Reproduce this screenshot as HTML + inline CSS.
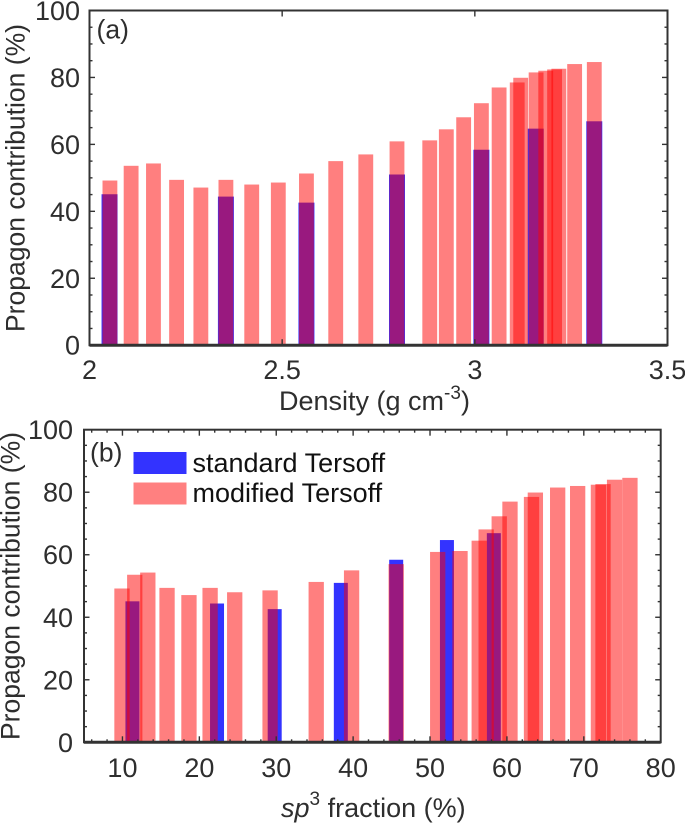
<!DOCTYPE html>
<html>
<head>
<meta charset="utf-8">
<style>
html,body{margin:0;padding:0;background:#fff;}
svg{display:block;font-family:"Liberation Sans",sans-serif;}
text{fill:#2e2e2e;}
</style>
</head>
<body>
<svg id="chart" xmlns="http://www.w3.org/2000/svg" width="685" height="823" viewBox="0 0 685 823">
  <g id="layer"></g>
  <text x="96.5" y="38.5" font-size="26.5">(a)</text>
  <text transform="translate(24.5,178) rotate(-90)" text-anchor="middle" font-size="27" textLength="308" lengthAdjust="spacingAndGlyphs">Propagon contribution (%)</text>
  <text x="279" y="410" font-size="27">Density (g cm<tspan dy="-11" font-size="19">-3</tspan><tspan dy="11">)</tspan></text>
  <text x="90" y="461.5" font-size="26.5">(b)</text>
  <text transform="translate(19.5,586) rotate(-90)" text-anchor="middle" font-size="27" textLength="308" lengthAdjust="spacingAndGlyphs">Propagon contribution (%)</text>
  <text x="281" y="817" font-size="27"><tspan font-style="italic">sp</tspan><tspan dy="-12" font-size="19">3</tspan><tspan dy="12"> fraction (%)</tspan></text>
  <rect x="133.5" y="452" width="53" height="22" fill="#3333ff"/>
  <text x="192.5" y="472" font-size="27" style="fill:#111">standard Tersoff</text>
  <rect x="133.5" y="482.5" width="53" height="22" fill="#ff8080"/>
  <text x="192.5" y="502" font-size="27" style="fill:#111">modified Tersoff</text>
</svg>
<script>
// Shared series values (%)
const modifiedValues = [49.2,53.6,54.3,49.4,47.1,49.4,48,48.6,51.3,55,57,60.9,61.2,64.5,68.1,72.3,77,78.5,79.9,81.5,82,82.4,82.6,84,84.6];
const standardValues = [45.1,44.4,42.6,51,58.4,64.7,66.9];

// Panel (a): density categories
const modifiedDensity = [2.053,2.108,2.166,2.226,2.289,2.354,2.421,2.49,2.563,2.639,2.717,2.798,2.883,2.926,2.971,3.017,3.063,3.11,3.119,3.159,3.184,3.207,3.218,3.259,3.31];
const standardDensity = [2.052,2.354,2.563,2.798,3.017,3.158,3.31];

// Panel (b): sp3 fraction categories
const modifiedSp3 = [9.94,11.6,13.3,15.8,18.65,21.4,24.6,29.2,35.2,39.8,45.6,51,53.9,56.4,57.3,59,60.4,63.2,63.7,66.6,69.2,71.9,72.5,74,76];
const standardSp3 = [11.3,22.3,29.8,38.4,45.6,52.2,58.3];

// Tick labels
const yTicks = [0,20,40,60,80,100];
const yMinorTicks = [5,10,15,25,30,35,45,50,55,65,70,75,85,90,95];
const densityTicks = [2,2.5,3,3.5];
const sp3Ticks = [10,20,30,40,50,60,70,80];
const sp3MinorTicks = [6,8,12,14,16,18,22,24,26,28,32,34,36,38,42,44,46,48,52,54,56,58,62,64,66,68,72,74,76,78];

const NS = 'http://www.w3.org/2000/svg';
const layer = document.getElementById('layer');
const INK = '#333333';

function make(tag, parent, attrs) {
  const el = document.createElementNS(NS, tag);
  for (const k in attrs) el.setAttribute(k, attrs[k]);
  parent.appendChild(el);
  return el;
}

function drawPanel(p) {
  const sx = v => p.left + (v - p.xMin) / (p.xMax - p.xMin) * (p.right - p.left);
  const sy = v => p.bottom - v / 100 * (p.bottom - p.top);

  const g = make('g', layer, {});
  
  

  p.standardX.forEach((x, i) => {
    const r = make('rect', g, {
      x: sx(x) - p.blueW / 2 * p.unit, y: sy(standardValues[i]),
      width: p.blueW * p.unit, height: sy(0) - sy(standardValues[i]),
      fill: '#0000ff', 'fill-opacity': 0.8
    });
    
    
  });
  p.modifiedX.forEach((x, i) => {
    const r = make('rect', g, {
      x: sx(x) - p.redW / 2 * p.unit, y: sy(modifiedValues[i]),
      width: p.redW * p.unit, height: sy(0) - sy(modifiedValues[i]),
      fill: '#ff0000', 'fill-opacity': 0.5
    });
    
    
  });

  const tick = (x1, y1, x2, y2) => {
    const l = make('line', g, { x1, y1, x2, y2, stroke: INK, 'stroke-width': 1.4 });
    
    
  };
  yTicks.forEach(v => { tick(p.left, sy(v), p.left + 5.5, sy(v)); tick(p.right, sy(v), p.right - 5.5, sy(v)); });
  yMinorTicks.forEach(v => { tick(p.left, sy(v), p.left + 3, sy(v)); tick(p.right, sy(v), p.right - 3, sy(v)); });
  p.xTicks.forEach(v => { tick(sx(v), p.bottom, sx(v), p.bottom - 6); tick(sx(v), p.top, sx(v), p.top + 6); });
  p.xMinor.forEach(v => { tick(sx(v), p.bottom, sx(v), p.bottom - 3); tick(sx(v), p.top, sx(v), p.top + 3); });

  const box = make('rect', g, { x: p.left, y: p.top, width: p.right - p.left, height: p.bottom - p.top, fill: 'none', stroke: INK, 'stroke-width': 2 });
  
  
  const base = make('line', g, { x1: p.left, y1: p.bottom, x2: p.right, y2: p.bottom, stroke: INK, 'stroke-width': 3 });
  
  

  yTicks.forEach(v => {
    const t = make('text', g, { x: p.left - p.yPad, y: sy(v) + 9.5, 'text-anchor': 'end', 'font-size': 27 });
    t.textContent = v;
    
    
  });
  p.xTicks.forEach(v => {
    const t = make('text', g, { x: sx(v), y: p.xLabelY, 'text-anchor': 'middle', 'font-size': 27 });
    t.textContent = v;
    
    
  });
}

drawPanel({
  id: 'panel-a', left: 89.5, right: 667.5, top: 10.5, bottom: 345.2,
  xMin: 2, xMax: 3.5, unit: 385.3, redW: 0.0385, blueW: 0.0415,
  modifiedX: modifiedDensity, standardX: standardDensity,
  xTicks: densityTicks, xMinor: [], yPad: 9.5, xLabelY: 379
});
drawPanel({
  id: 'panel-b', left: 84, right: 660.7, top: 429.7, bottom: 742.3,
  xMin: 5, xMax: 80, unit: 7.69, redW: 1.99, blueW: 1.82,
  modifiedX: modifiedSp3, standardX: standardSp3,
  xTicks: sp3Ticks, xMinor: sp3MinorTicks, yPad: 11, xLabelY: 777
});
</script>
</body>
</html>
